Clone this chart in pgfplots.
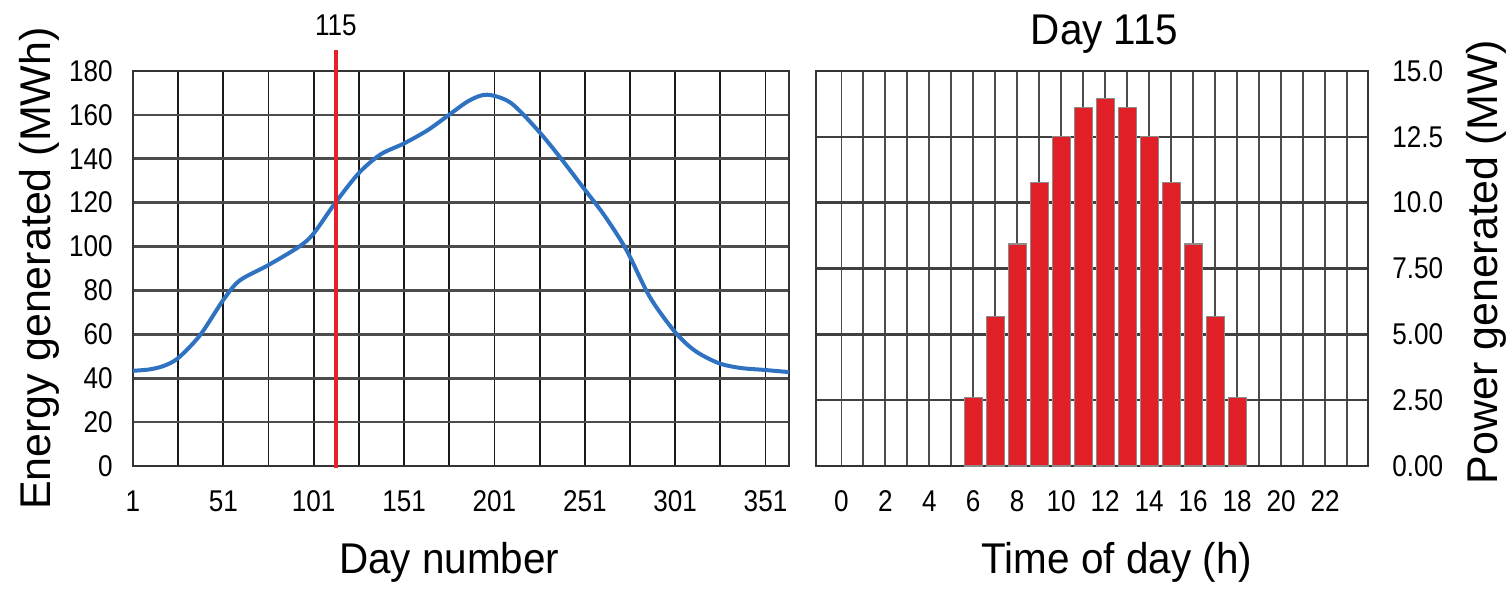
\documentclass[border=0pt]{standalone}
\usepackage{fontspec}
\setmainfont{Liberation Sans}
\usepackage{graphicx}
\usepackage{pgfplots}
\pgfplotsset{compat=1.18}
\newcommand{\tl}[1]{\scalebox{0.87}[1]{#1}}
\newcommand{\bl}[1]{\scalebox{0.94}[1]{#1}}
\definecolor{curveblue}{HTML}{2F72C2}
\definecolor{barred}{HTML}{E11F26}
\definecolor{linered}{HTML}{E8202A}
\definecolor{gridc}{HTML}{333333}
\pgfplotsset{
  common/.style={
    scale only axis, height=197.5pt,
    /pgf/number format/assume math mode=true,
    axis line style={line width=1.4pt, color=gridc},
    major tick length=0pt, minor tick length=0pt,
    tick label style={font=\fontsize{15}{15}\selectfont, inner sep=0pt},
    label style={font=\fontsize{21.5}{22}\selectfont},
    title style={font=\fontsize{21.5}{22}\selectfont},
    grid=both,
    xticklabel style={anchor=north, yshift=-12pt},
  }
}
\begin{document}
\begin{tikzpicture}
\path[use as bounding box] (-66.5pt,-62pt) rectangle (687.5pt,233pt);
\begin{axis}[common,
  at={(0pt,0pt)}, anchor=south west,
  width=328pt,
  xmin=1, xmax=364, ymin=0, ymax=180,
  xtick={1,51,...,351}, minor xtick={26,76,...,326},
  xticklabel={\tl{\pgfmathprintnumber{\tick}}},
  ytick={0,20,...,180},
  yticklabel={\tl{\pgfmathprintnumber{\tick}}},
  yticklabel style={anchor=east, xshift=-10pt},
  major x grid style={black!90, line width=0.9pt},
  minor x grid style={black!90, line width=0.9pt},
  major y grid style={black!70, line width=1.3pt},
  xlabel={\bl{Day number}},
  xlabel style={at={(axis description cs:0.482,-0.271)}, anchor=base},
  ylabel={Energy generated (MWh)},
  ylabel style={at={(axis description cs:-0.1265,0.5)}, anchor=base},
  clip=false,
]
\addplot[curveblue, line width=2pt, smooth] coordinates {
(1,43.4) (10,44) (18,45.6) (26,49.2) (38,59.5) (51,75.7) (60,84.5)
(76,91.6) (93,100) (101,106) (113,120) (126,133.5) (138,142) (151,147)
(164,153) (175,159.5) (187,166.5) (197,169.2) (210,165.5) (225,153)
(237,141) (250,127) (262,114) (274,98.5) (287,77) (301,61) (312,52.5)
(325,46.9) (337,44.7) (350,43.8) (364,42.8)
};
\addplot[linered, line width=1.6pt] coordinates {(113.3,-0.8) (113.3,189.6)};
\node[anchor=base, font=\fontsize{15}{15}\selectfont] at (axis cs:113.3,196.4) {\tl{115}};
\end{axis}
\begin{axis}[common,
  at={(341.5pt,0pt)}, anchor=south west,
  width=276pt,
  xmin=-1.15, xmax=23.95, ymin=0, ymax=15,
  xtick={0,2,...,22}, minor xtick={1,3,...,23},
  xticklabel={\tl{\pgfmathprintnumber{\tick}}},
  ytick={0,2.5,...,15},
  yticklabels={\tl{0.00},\tl{2.50},\tl{5.00},\tl{7.50},\tl{10.0},\tl{12.5},\tl{15.0}},
  yticklabel pos=right,
  yticklabel style={anchor=west, xshift=12pt},
  major x grid style={black!70, line width=0.8pt},
  minor x grid style={black!70, line width=0.8pt},
  major y grid style={black!75, line width=1.2pt},
  xlabel={\bl{Time of day (h)}},
  xlabel style={at={(axis description cs:0.545,-0.271)}, anchor=base},
  ylabel={Power generated (MW)},
  ylabel style={at={(axis description cs:1.2337,0.516)}, anchor=base},
  title={\bl{Day 115}},
  title style={at={(axis description cs:0.523,1.0356)}, anchor=base},
  ybar, bar width=0.82,
]
\addplot[fill=barred, draw=black!45, line width=0.6pt] coordinates {
(6,2.61) (7,5.69) (8,8.43) (9,10.76) (10,12.51) (11,13.61) (12,13.97)
(13,13.61) (14,12.51) (15,10.76) (16,8.43) (17,5.69) (18,2.61)
};
\end{axis}
\end{tikzpicture}
\end{document}
